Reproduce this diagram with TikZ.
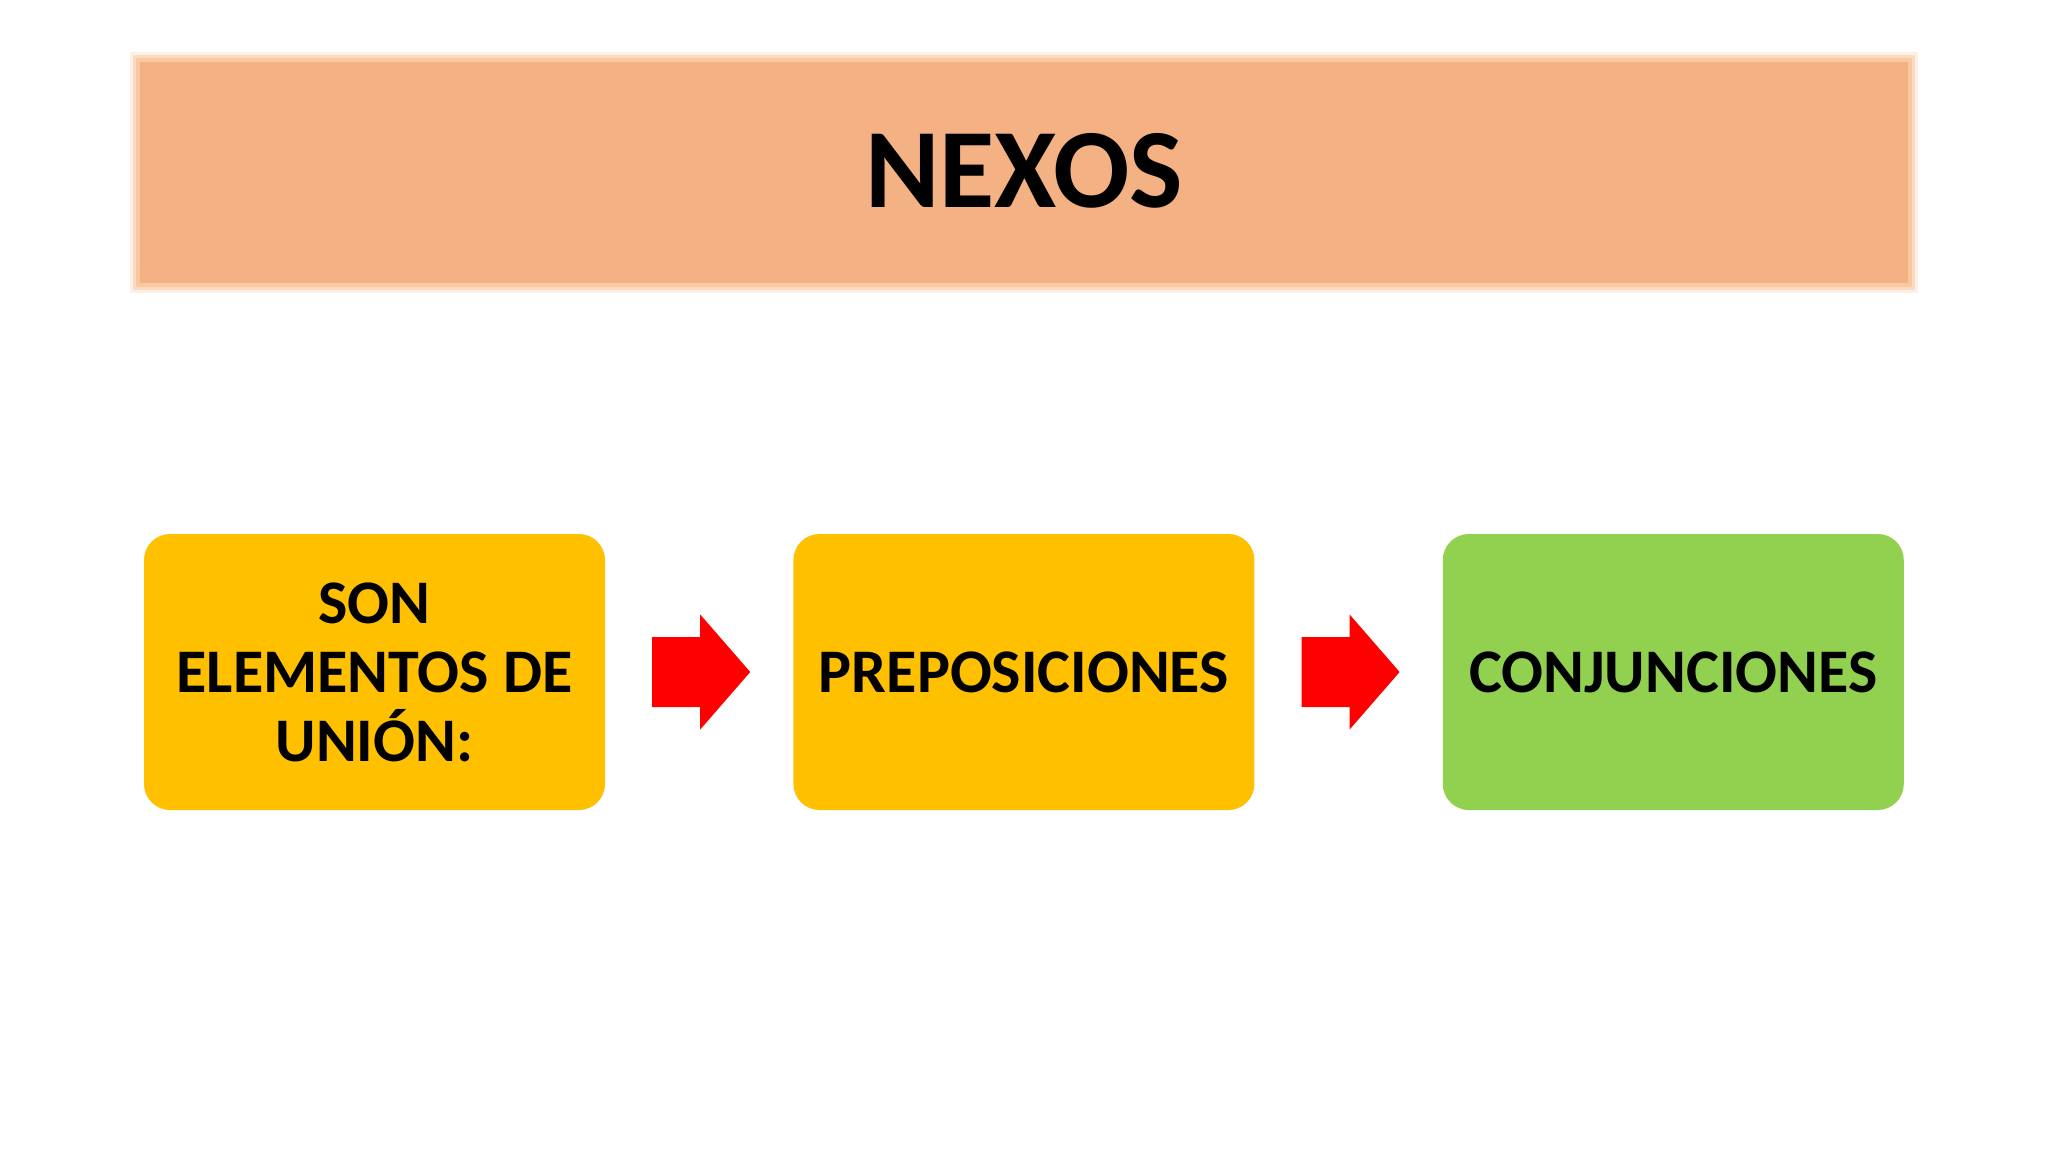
\documentclass[tikz,border=0pt]{standalone}
\usepackage{fontspec}
\setmainfont{Carlito}
\definecolor{titleorange}{HTML}{F4B183}
\definecolor{glow}{HTML}{FBC8A0}
\definecolor{boxyellow}{HTML}{FFC000}
\definecolor{boxgreen}{HTML}{92D050}
\definecolor{arrowred}{HTML}{FF0000}
\usetikzlibrary{positioning, calc}

\begin{document}
\begin{tikzpicture}[
  x=1pt, y=-1pt,
  box/.style={rectangle, rounded corners=26pt, minimum width=461pt,
              minimum height=276pt, align=center, inner sep=0pt,
              font=\fontsize{62}{69}\selectfont\bfseries},
  titlebox/.style={rectangle, minimum width=1768pt, minimum height=221pt,
              fill=titleorange, font=\fontsize{113}{120}\selectfont\bfseries}
]
  \useasboundingbox[fill=white] (0,0) rectangle (2048,1152);

  % Title with soft glow
  \fill[glow, opacity=0.25] (130,52) rectangle (1918,293);
  \fill[glow, opacity=0.5] (133,55) rectangle (1915,290);
  \fill[glow] (136,58) rectangle (1912,287);
  \node[titlebox] (title) at (1024,172) {\raisebox{4pt}{NEXOS}};

  % Main boxes
  \node[box, fill=boxyellow] (son) at (374.5,672) {SON\\ELEMENTOS DE\\UNIÓN:};
  \node[box, fill=boxyellow, right=188pt of son] (prep) {PREPOSICIONES};
  \node[box, fill=boxgreen, right=188pt of prep] (conj) {CONJUNCIONES};

  % Block arrows
  \coordinate (a1) at ($(son.east)!0.5!(prep.west)$);
  \coordinate (a2) at ($(prep.east)!0.5!(conj.west)$);
  \foreach \a in {a1, a2}
    \fill[arrowred] ($(\a)+(-47,-35)$) -- ++(48,0) -- ++(0,-22.5)
      -- ++(50,57.5) -- ++(-50,57.5) -- ++(0,-22.5) -- ++(-48,0) -- cycle;
\end{tikzpicture}
\end{document}
